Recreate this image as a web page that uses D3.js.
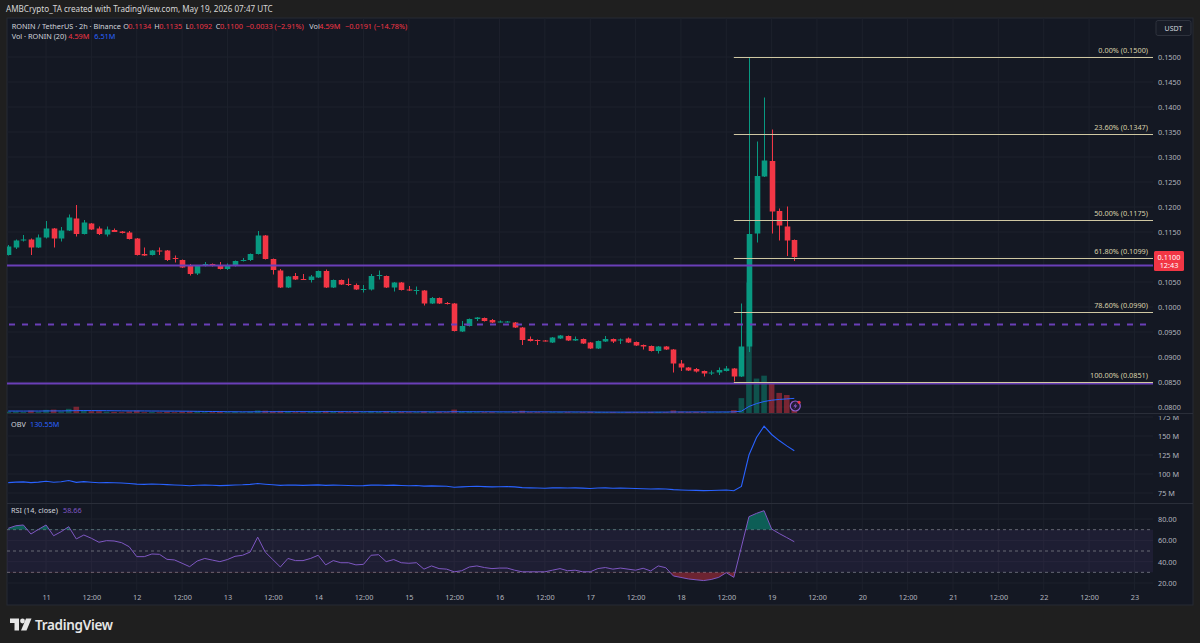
<!DOCTYPE html>
<html><head><meta charset="utf-8">
<script src="https://cdn.jsdelivr.net/npm/d3@7"></script>
<style>html,body{margin:0;padding:0;background:#1f1f1f;overflow:hidden}svg{display:block;font-family:"Noto Sans",sans-serif}</style>
</head><body><svg id="c" width="1200" height="643"></svg>
<script>
// ---------- DATA ----------
const opens=[.1104,.1119,.1133,.1135,.1119,.1139,.1157,.1137,.1153,.1177,
.1146,.1167,.1157,.1145,.1154,.1151,.1149,.1137,.1106,.1104,
.1113,.1113,.1098,.1094,.1082,.1067,.1082,.1086,.1082,.1076,
.1082,.1092,.1094,.1106,.1143,.1096,.1073,.1039,.1062,.1056,
.1054,.1059,.1072,.1039,.1054,.1046,.1044,.1035,.1035,.1062,
.1062,.1039,.1049,.1035,.1033,.1033,.1007,.1018,.1008,.1007,
.0951,.0962,.0976,.0978,.0974,.0970,.0970,.0969,.0959,.0936,
.0934,.0933,.0929,.0937,.0942,.0933,.0936,.0929,.0917,.0931,
.0936,.0934,.0937,.0930,.0924,.0922,.0912,.0921,.0915,.0887,
.0879,.0876,.0872,.0867,.0869,.0872,.0877,.0861,.0921,.1147,
.1261,.1292,.1192,.1161,.1134];
const highs=[.1124,.1135,.1144,.1137,.1145,.1172,.1158,.1160,.1185,.1204,
.1174,.1168,.1161,.1161,.1157,.1152,.1152,.1138,.1119,.1114,
.1119,.1114,.1103,.1095,.1086,.1083,.1090,.1087,.1090,.1087,
.1093,.1098,.1107,.1152,.1144,.1097,.1076,.1062,.1068,.1066,
.1064,.1073,.1075,.1055,.1055,.1057,.1047,.1044,.1066,.1073,
.1063,.1050,.1050,.1042,.1041,.1034,.1020,.1019,.1010,.1008,
.0972,.0977,.0980,.0979,.0976,.0973,.0972,.0970,.0960,.0941,
.0935,.0934,.0940,.0944,.0943,.0941,.0937,.0930,.0933,.0942,
.0937,.0937,.0939,.0931,.0925,.0923,.0922,.0922,.0916,.0894,
.0880,.0878,.0873,.0873,.0879,.0882,.0878,.1007,.1500,.1331,
.1419,.1355,.1197,.1201,.1135];
const lows=[.1103,.1116,.1131,.1104,.1118,.1137,.1119,.1131,.1152,.1141,
.1145,.1154,.1144,.1141,.1150,.1147,.1135,.1103,.1102,.1103,
.1104,.1092,.1089,.1078,.1063,.1064,.1081,.1081,.1075,.1074,
.1081,.1091,.1092,.1105,.1095,.1065,.1038,.1038,.1054,.1054,
.1049,.1058,.1038,.1038,.1044,.1042,.1034,.1029,.1033,.1055,
.1038,.1031,.1033,.1032,.1025,.1003,.1006,.1006,.1005,.0951,
.0950,.0961,.0972,.0971,.0968,.0969,.0969,.0958,.0924,.0931,
.0924,.0931,.0928,.0936,.0932,.0932,.0926,.0916,.0916,.0930,
.0928,.0926,.0928,.0922,.0915,.0911,.0907,.0914,.0869,.0872,
.0872,.0869,.0861,.0864,.0864,.0871,.0851,.0860,.0910,.1129,
.1260,.1147,.1133,.1102,.1092];
const closes=[.1121,.1133,.1135,.1119,.1139,.1157,.1137,.1153,.1179,.1146,
.1169,.1155,.1146,.1155,.1150,.1148,.1136,.1104,.1103,.1113,
.1111,.1094,.1097,.1079,.1066,.1082,.1086,.1082,.1076,.1082,
.1092,.1094,.1106,.1143,.1096,.1074,.1039,.1061,.1055,.1055,
.1061,.1072,.1039,.1054,.1045,.1045,.1035,.1036,.1062,.1064,
.1039,.1049,.1034,.1033,.1034,.1007,.1018,.1007,.1006,.0952,
.0962,.0976,.0979,.0972,.0969,.0971,.0971,.0959,.0934,.0932,
.0933,.0932,.0939,.0943,.0933,.0936,.0927,.0917,.0932,.0936,
.0931,.0935,.0929,.0923,.0921,.0912,.0921,.0915,.0887,.0879,
.0873,.0871,.0867,.0869,.0874,.0877,.0861,.0921,.1146,.1262,
.1293,.1191,.1163,.1133,.1100];
const volumes=[0.5,0.6,0.4,0.9,0.5,1.2,1.3,0.6,1.6,2.4,
0.9,0.7,0.7,0.5,0.4,0.3,0.6,0.9,0.3,0.4,
0.3,0.5,0.3,0.5,0.6,0.6,0.3,0.3,0.4,0.3,
0.5,0.3,0.5,1.0,0.9,0.7,0.8,0.6,0.3,0.3,
0.4,0.5,0.8,0.5,0.4,0.3,0.4,0.3,0.7,0.4,
0.6,0.4,0.4,0.3,0.3,0.6,0.4,0.4,0.3,1.3,
0.5,0.5,0.3,0.3,0.3,0.2,0.2,0.4,0.9,0.3,
0.3,0.2,0.3,0.3,0.3,0.2,0.3,0.4,0.4,0.3,
0.3,0.2,0.3,0.3,0.3,0.4,0.4,0.3,1.0,0.5,
0.4,0.4,0.4,0.3,0.3,0.3,1.1,5.7,50,13.2,
14.3,11.5,7.7,6.9,4.59];
const volMA=[0.75,0.75,0.74,0.76,0.75,0.78,0.8,0.8,0.85,0.9,
0.92,0.92,0.9,0.88,0.85,0.82,0.8,0.8,0.78,0.76,
0.75,0.73,0.72,0.7,0.68,0.64,0.6,0.58,0.55,0.5,
0.48,0.46,0.46,0.47,0.48,0.5,0.52,0.53,0.53,0.52,
0.52,0.52,0.53,0.53,0.52,0.51,0.5,0.49,0.49,0.5,
0.5,0.49,0.48,0.47,0.46,0.46,0.45,0.45,0.44,0.48,
0.48,0.48,0.47,0.46,0.45,0.44,0.43,0.43,0.45,0.44,
0.44,0.43,0.42,0.41,0.41,0.4,0.39,0.39,0.35,0.34,
0.34,0.33,0.33,0.33,0.33,0.34,0.35,0.35,0.38,0.39,
0.39,0.4,0.4,0.4,0.4,0.4,0.43,0.68,2.5,3.6,
4.4,4.9,5.2,5.4,5.6];
const obv=[88.7,89.3,89.6,88.7,89.3,90.5,89.2,89.8,91.4,89.0,
89.9,89.1,88.4,88.9,88.5,88.2,87.6,86.7,86.4,86.8,
86.5,86.0,85.6,85.1,84.5,85.1,85.4,85.1,84.7,85.0,
85.5,85.8,86.4,87.4,86.5,85.8,85.0,85.6,85.3,85.0,
85.3,85.7,85.0,85.4,85.1,84.8,84.5,84.7,85.3,85.5,
85.0,85.3,84.9,84.6,84.8,84.0,84.4,84.0,83.8,82.5,
83.0,83.5,83.8,83.4,83.1,83.3,83.4,83.0,82.1,81.8,
81.5,81.3,81.7,82.0,81.6,81.8,81.4,81.0,81.5,81.7,
81.3,81.5,81.2,80.9,80.6,80.2,80.6,80.3,79.5,79.0,
78.7,78.4,78.1,78.3,78.6,78.9,78.0,83.7,125.0,148.0,
163.0,152.0,144.0,137.0,130.55];
const rsi=[71.3,73.7,74.4,65.9,70.3,74.4,64.3,68.1,72.8,61.3,
65.0,61.9,58.2,59.7,59.4,57.8,54.0,44.7,44.7,47.2,
46.9,42.2,41.6,38.5,35.3,40.6,43.0,41.5,40.0,42.0,
45.0,46.0,49.0,63.0,49.0,42.0,35.0,43.0,41.0,41.0,
43.0,46.0,37.0,41.0,39.0,39.0,37.0,37.5,46.0,46.5,
40.0,42.0,39.0,38.5,39.0,33.0,36.0,33.5,33.0,30.5,
31.5,35.0,36.0,34.5,33.5,34.0,34.0,32.0,30.5,30.5,
30.5,30.5,32.0,33.5,31.5,32.0,30.5,30.5,33.5,34.5,
33.0,34.0,33.0,32.0,33.8,31.3,36.0,34.3,26.6,25.2,
23.8,23.0,22.3,23.3,25.3,29.7,25.3,53.8,82.2,85.3,
87.8,70.6,66.4,62.6,58.66];
const priceTicks=[0.0800,0.0850,0.0900,0.0950,0.1000,0.1050,0.1100,0.1150,0.1200,0.1250,0.1300,0.1350,0.1400,0.1450,0.1500];
const obvTicks=[75,100,125,150,175];
const rsiTicks=[20,40,60,80];
const rsiBands=[70,50,30];
const fibPcts=["0.00%","23.60%","50.00%","61.80%","78.60%","100.00%"];
const fibPrices=[0.1500,0.1347,0.1175,0.1099,0.0990,0.0851];
const solidLevels=[0.1083,0.0847];
const dashedLevels=[0.0965];
const lastPrice=0.1100, countdown="12:43";

// ---------- LAYOUT ----------
const W=1200,H=643;
const plotL=7, plotR=1153, chartR=1193, chartT=18, chartB=605;
const mainB=413, obvB=503, rsiB=590;
const RED="#f23645", GREEN="#089981", TXT="#b2b5be", GRID="#1d212c";
const svg=d3.select("#c");
svg.append("rect").attr("width",W).attr("height",H).attr("fill","#1f1f1f");
svg.append("rect").attr("x",plotL).attr("y",chartT).attr("width",chartR-plotL).attr("height",chartB-chartT)
  .attr("fill","#141823").attr("stroke","#262a35").attr("stroke-width",1);

const times=opens.map((_,i)=>new Date(Date.UTC(2026,4,10,14)+i*7200000));
const x=d3.scaleUtc().domain([new Date(Date.UTC(2026,4,10,13,40)),new Date(Date.UTC(2026,4,23,4,55))]).range([plotL,plotR]);
const y=d3.scaleLinear().domain([0.08,0.15]).range([407,57]);
const yVol=d3.scaleLinear().domain([0,100]).range([mainB,mainB-261]);
const yObv=d3.scaleLinear().domain([75,150]).range([493,436]);
const yRsi=d3.scaleLinear().domain([20,80]).range([583,519]);

const defs=svg.append("defs");
function clip(id,y0,y1){defs.append("clipPath").attr("id",id).append("rect").attr("x",plotL).attr("y",y0).attr("width",plotR-plotL).attr("height",y1-y0);}
clip("cMain",chartT,mainB);clip("cObv",mainB,obvB);clip("cRsi",obvB,rsiB);
defs.append("clipPath").attr("id","cOver").append("rect").attr("x",plotL).attr("y",obvB).attr("width",plotR-plotL).attr("height",yRsi(70)-obvB);
defs.append("clipPath").attr("id","cUnder").append("rect").attr("x",plotL).attr("y",yRsi(30)).attr("width",plotR-plotL).attr("height",rsiB-yRsi(30));

// grid
const xTicks=d3.utcHour.every(12).range(new Date(Date.UTC(2026,4,11,0)),new Date(Date.UTC(2026,4,23,1)));
const grid=svg.append("g");
grid.selectAll("line.v").data(xTicks).join("line").attr("x1",d=>x(d)).attr("x2",d=>x(d)).attr("y1",chartT).attr("y2",rsiB).attr("stroke",GRID);
grid.selectAll("line.p").data(priceTicks).join("line").attr("x1",plotL).attr("x2",plotR).attr("y1",d=>y(d)).attr("y2",d=>y(d)).attr("stroke",GRID);
grid.append("g").attr("clip-path","url(#cObv)").selectAll("line").data(obvTicks).join("line").attr("x1",plotL).attr("x2",plotR).attr("y1",d=>yObv(d)).attr("y2",d=>yObv(d)).attr("stroke",GRID);
grid.selectAll("line.r").data(rsiTicks).join("line").attr("x1",plotL).attr("x2",plotR).attr("y1",d=>yRsi(d)).attr("y2",d=>yRsi(d)).attr("stroke",GRID);

// pane separators
[mainB,obvB].forEach(v=>svg.append("line").attr("x1",plotL).attr("x2",chartR).attr("y1",v+0.5).attr("y2",v+0.5).attr("stroke","#2a2e39"));

// ---------- MAIN PANE ----------
const main=svg.append("g").attr("clip-path","url(#cMain)");
const bw=5.6;
main.selectAll("rect.vol").data(volumes).join("rect")
  .attr("x",(d,i)=>x(times[i])-bw/2).attr("width",bw)
  .attr("y",d=>yVol(d)).attr("height",d=>mainB-yVol(d))
  .attr("fill",(d,i)=>closes[i]>=opens[i]?GREEN:RED).attr("opacity",0.45);
main.append("path").datum(volMA).attr("fill","none").attr("stroke","#2962ff").attr("stroke-width",1)
  .attr("d",d3.line().x((d,i)=>x(times[i])).y(d=>yVol(d)));
// candles
const cg=main.append("g");
cg.selectAll("line.w").data(opens).join("line")
  .attr("x1",(d,i)=>Math.round(x(times[i]))+0.5).attr("x2",(d,i)=>Math.round(x(times[i]))+0.5)
  .attr("y1",(d,i)=>y(highs[i])).attr("y2",(d,i)=>y(lows[i]))
  .attr("stroke",(d,i)=>closes[i]>=opens[i]?GREEN:RED).attr("stroke-width",1);
cg.selectAll("rect.b").data(opens).join("rect")
  .attr("x",(d,i)=>Math.round(x(times[i]))+0.5-bw/2).attr("width",bw)
  .attr("y",(d,i)=>y(Math.max(opens[i],closes[i])))
  .attr("height",(d,i)=>Math.max(1,Math.abs(y(opens[i])-y(closes[i]))))
  .attr("fill",(d,i)=>closes[i]>=opens[i]?GREEN:RED);
// horizontal purple levels
main.selectAll("line.s").data(solidLevels).join("line").attr("x1",plotL).attr("x2",plotR).attr("y1",d=>y(d)).attr("y2",d=>y(d)).attr("stroke","#6a3fb8").attr("stroke-width",2);
main.selectAll("line.d").data(dashedLevels).join("line").attr("x1",plotL+2).attr("x2",plotR-4).attr("y1",d=>y(d)).attr("y2",d=>y(d)).attr("stroke","#6a3fb8").attr("stroke-width",2).attr("stroke-dasharray","6,7");
// fib
const fibX0=x(times[96]);
const fg=main.append("g");
fg.selectAll("line").data(fibPrices).join("line").attr("x1",fibX0).attr("x2",plotR).attr("y1",d=>Math.round(y(d))+0.5).attr("y2",d=>Math.round(y(d))+0.5).attr("stroke","#cfc7a2").attr("stroke-width",1);
fg.selectAll("text").data(fibPrices).join("text").attr("x",1148).attr("y",d=>y(d)-4).attr("text-anchor","end")
  .attr("font-size",7.3).attr("fill","#d8d0aa").text((d,i)=>`${fibPcts[i]} (${d.toFixed(4)})`);
// event icon
const ev=main.append("g").attr("transform",`translate(${x(times[104])+1},406)`);
ev.append("circle").attr("r",5).attr("fill","#241c36").attr("stroke","#8e5fd0").attr("stroke-width",1.2);
ev.append("path").attr("d","M1,-3 L-2,0.5 L0,0.5 L-1,3 L2,-0.5 L0,-0.5 Z").attr("fill","#8e5fd0");
ev.append("circle").attr("cx",3.8).attr("cy",-3.8).attr("r",1.5).attr("fill",RED);

// ---------- OBV PANE ----------
const og=svg.append("g").attr("clip-path","url(#cObv)");
og.append("path").datum(obv).attr("fill","none").attr("stroke","#2962ff").attr("stroke-width",1.1)
  .attr("d",d3.line().x((d,i)=>x(times[i])).y(d=>yObv(d)));

// ---------- RSI PANE ----------
const rg=svg.append("g").attr("clip-path","url(#cRsi)");
rg.append("rect").attr("x",plotL).attr("width",plotR-plotL).attr("y",yRsi(70)).attr("height",yRsi(30)-yRsi(70)).attr("fill","#7e57c2").attr("opacity",0.1);
rg.selectAll("line").data(rsiBands).join("line").attr("x1",plotL).attr("x2",plotR).attr("y1",d=>yRsi(d)).attr("y2",d=>yRsi(d))
  .attr("stroke","#787b86").attr("stroke-dasharray","3,3").attr("stroke-opacity",0.8);
rg.append("path").datum(rsi).attr("clip-path","url(#cOver)").attr("fill",GREEN).attr("opacity",0.55)
  .attr("d",d3.area().x((d,i)=>x(times[i])).y0(yRsi(70)).y1(d=>yRsi(d)));
rg.append("path").datum(rsi).attr("clip-path","url(#cUnder)").attr("fill",RED).attr("opacity",0.4)
  .attr("d",d3.area().x((d,i)=>x(times[i])).y0(yRsi(30)).y1(d=>yRsi(d)));
rg.append("path").datum(rsi).attr("fill","none").attr("stroke","#7e57c2").attr("stroke-width",1)
  .attr("d",d3.line().x((d,i)=>x(times[i])).y(d=>yRsi(d)));

// ---------- AXES ----------
function styleAxis(g){g.select(".domain").remove();g.selectAll("text").attr("fill",TXT).attr("font-size",7.3).attr("font-family","Noto Sans");}
svg.append("g").attr("transform",`translate(${plotR},0)`)
  .call(d3.axisRight(y).tickValues(priceTicks).tickFormat(d3.format(".4f")).tickSize(0).tickPadding(5)).call(styleAxis);
defs.append("clipPath").attr("id","cObvAx").append("rect").attr("x",0).attr("y",mainB+3).attr("width",50).attr("height",obvB-mainB-3);
svg.append("g").attr("transform",`translate(${plotR},0)`).attr("clip-path","url(#cObvAx)")
  .call(d3.axisRight(yObv).tickValues(obvTicks).tickFormat(d=>d+" M").tickSize(0).tickPadding(5)).call(styleAxis);
svg.append("g").attr("transform",`translate(${plotR},0)`)
  .call(d3.axisRight(yRsi).tickValues(rsiTicks).tickFormat(d3.format(".2f")).tickSize(0).tickPadding(5)).call(styleAxis);
svg.append("g").attr("transform",`translate(0,${rsiB})`)
  .call(d3.axisBottom(x).tickValues(xTicks).tickFormat(d=>d.getUTCHours()===0?String(d.getUTCDate()):"12:00").tickSize(0).tickPadding(5)).call(styleAxis);

// current price tag
const tag=svg.append("g");
tag.append("rect").attr("x",1154).attr("y",y(lastPrice)-6).attr("width",30).attr("height",20).attr("rx",1.5).attr("fill",RED);
tag.append("text").attr("x",1169).attr("y",y(lastPrice)+2.5).attr("text-anchor","middle").attr("font-size",7.3).attr("fill","#fff").text(lastPrice.toFixed(4));
tag.append("text").attr("x",1169).attr("y",y(lastPrice)+11).attr("text-anchor","middle").attr("font-size",7.3).attr("fill","#fff").text(countdown);
// USDT box
svg.append("rect").attr("x",1156).attr("y",20.5).attr("width",35).attr("height",15).attr("rx",2).attr("fill","#171b26").attr("stroke","#2e323d");
svg.append("text").attr("x",1173.5).attr("y",30.5).attr("text-anchor","middle").attr("font-size",7).attr("fill","#d1d4dc").text("USDT");

// ---------- TEXTS ----------
svg.append("text").attr("x",6).attr("y",12).attr("font-size",8.1).attr("fill","#d6d6d6").text("AMBCrypto_TA created with TradingView.com, May 19, 2026 07:47 UTC");
const leg1=[["RONIN / TetherUS · 2h · Binance",11.7,"#d1d4dc"],["O",123.3,"#d1d4dc"],["0.1134",128.3,RED],["H",154.3,"#d1d4dc"],["0.1135",159.3,RED],
 ["L",185.7,"#d1d4dc"],["0.1092",189.3,RED],["C",215.7,"#d1d4dc"],["0.1100",220,RED],["−0.0033 (−2.91%)",245.7,RED],
 ["Vol",309.3,"#d1d4dc"],["4.59M",319.3,RED],["−0.0191 (−14.78%)",345,RED]];
const leg2=[["Vol · RONIN (20)",11.7,"#d1d4dc"],["4.59M",68.3,RED],["6.51M",94.3,"#2962ff"]];
function legend(items,yy){svg.append("g").selectAll("text").data(items).join("text").attr("x",d=>d[1]).attr("y",yy).attr("font-size",7.3).attr("fill",d=>d[2]).text(d=>d[0]);}
legend(leg1,28.5);legend(leg2,38.5);
legend([["OBV",11,"#d1d4dc"],["130.55M",30,"#2962ff"]],426.5);
legend([["RSI (14, close)",11,"#d1d4dc"],["58.66",63,"#7e57c2"]],513);

// TradingView logo
const lg=svg.append("g").attr("fill","#e6e6e6");
lg.append("path").attr("d","M10,618.5 h9 v12 h-4.5 v-7.5 h-4.5 z");
lg.append("circle").attr("cx",22.5).attr("cy",621).attr("r",2.4);
lg.append("path").attr("d","M26,618.5 h5.5 l-5,12 h-5.5 z");
svg.append("text").attr("x",35).attr("y",630).attr("font-size",13.5).attr("font-weight",600).attr("fill","#e6e6e6").attr("letter-spacing",-0.3).text("TradingView");
</script></body></html>
